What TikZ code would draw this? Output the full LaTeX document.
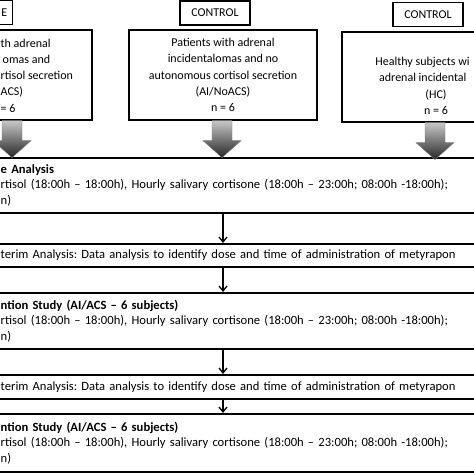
\documentclass[tikz,border=0pt]{standalone}
\usepackage{fontspec}
\setmainfont{Carlito}
\usepackage{tikz}
\usetikzlibrary{arrows.meta, positioning, calc}

\begin{document}
\frenchspacing
\begin{tikzpicture}[
    x=1pt, y=-1pt,
    grpbox/.style={rectangle, draw=black, line width=1.3pt, minimum width=188pt, minimum height=90pt, inner sep=0pt},
    grptext/.style={inner sep=0pt, font=\fontsize{12}{16.3}\selectfont},
    tagbox/.style={rectangle, draw=black, line width=1.3pt, minimum width=70pt, minimum height=24pt, inner sep=0pt, align=center, font=\fontsize{12}{14}\selectfont},
    stagebox/.style={rectangle, draw=black, line width=1.5pt, text width=540pt, inner xsep=6pt, inner ysep=0pt, align=left, anchor=north west, font=\fontsize{12.6}{15.5}\selectfont},
    bigarrow/.style={top color=black!22, bottom color=black!85, draw=black!50, line width=0.4pt},
    line/.style={draw=black, line width=1.3pt, -{Straight Barb[length=5pt, width=8pt]}}
]
\useasboundingbox (0,0) rectangle (474,474);
\clip (0,0) rectangle (474,474);

% Group tags
\node[tagbox, text width=60pt, inner xsep=5pt, align=right, anchor=east] (casetag) at (13,12.5) {E};
\node[tagbox] (ctrltagA) at (215,13) {CONTROL};
\node[tagbox] (ctrltagB) at (428,14.5) {CONTROL};

% Groups
\node[grpbox] (acs) at (-2,75) {};
\node[grptext, align=left, anchor=west] (acstext) at (0.5,75.5) {th adrenal\\\hspace{2pt}omas and\\rtisol secretion\\ACS)\\= 6};
\node[grpbox, align=center, font=\fontsize{12}{16.3}\selectfont] (noacs) at (223,75) {Patients with adrenal\\incidentalomas and no\\autonomous cortisol secretion\\(AI/NoACS)\\n = 6};
\node[grpbox] (hc) at (436,77) {};
\node[grptext, align=center] (hctext) at (436,86) {Healthy subjects wi\phantom{thout}\\adrenal incidental\phantom{omas}\\(HC)\\n = 6};

% Stages
\node[stagebox, minimum height=55pt] (baseline) at (-6,157) {\textbf{e Analysis}\\rtisol (18:00h – 18:00h), Hourly salivary cortisone (18:00h – 23:00h; 08:00h -18:00h);\\n)};
\node[stagebox, minimum height=23pt] (interimA) at (-6,243) {terim Analysis: Data analysis to identify dose and time of administration of metyrapon};
\node[stagebox, minimum height=56pt] (studyA) at (-6,292) {\textbf{ntion Study (AI/ACS – 6 subjects)}\\rtisol (18:00h – 18:00h), Hourly salivary cortisone (18:00h – 23:00h; 08:00h -18:00h);\\n)};
\node[stagebox, minimum height=24pt] (interimB) at (-6,374) {terim Analysis: Data analysis to identify dose and time of administration of metyrapon};
\node[stagebox, minimum height=58pt] (studyB) at (-6,413) {\textbf{ntion Study (AI/ACS – 6 subjects)}\\rtisol (18:00h – 18:00h), Hourly salivary cortisone (18:00h – 23:00h; 08:00h -18:00h);\\n)};

\coordinate (acsx) at (12,0);
\coordinate (noacsx) at (222,0);
\coordinate (hcx) at (435,0);
\coordinate (flowx) at (223,0);

% Connections
\shade[bigarrow] (acs.south -| acsx) ++(-10,0) -- ++(0,20) -- ++(-9,0) -- ++(19,17) -- ++(19,-17) -- ++(-9,0) -- ++(0,-20) -- cycle;
\shade[bigarrow] (noacs.south -| noacsx) ++(-10,0) -- ++(0,20) -- ++(-9,0) -- ++(19,17) -- ++(19,-17) -- ++(-9,0) -- ++(0,-20) -- cycle;
\shade[bigarrow] (hc.south -| hcx) ++(-10,0) -- ++(0,20) -- ++(-9,0) -- ++(19,17) -- ++(19,-17) -- ++(-9,0) -- ++(0,-20) -- cycle;

\draw[line] (baseline.south -| flowx) -- (interimA.north -| flowx);
\draw[line] (interimA.south -| flowx) -- (studyA.north -| flowx);
\draw[line] (studyA.south -| flowx) -- (interimB.north -| flowx);
\draw[line] (interimB.south -| flowx) -- (studyB.north -| flowx);

\end{tikzpicture}
\end{document}
